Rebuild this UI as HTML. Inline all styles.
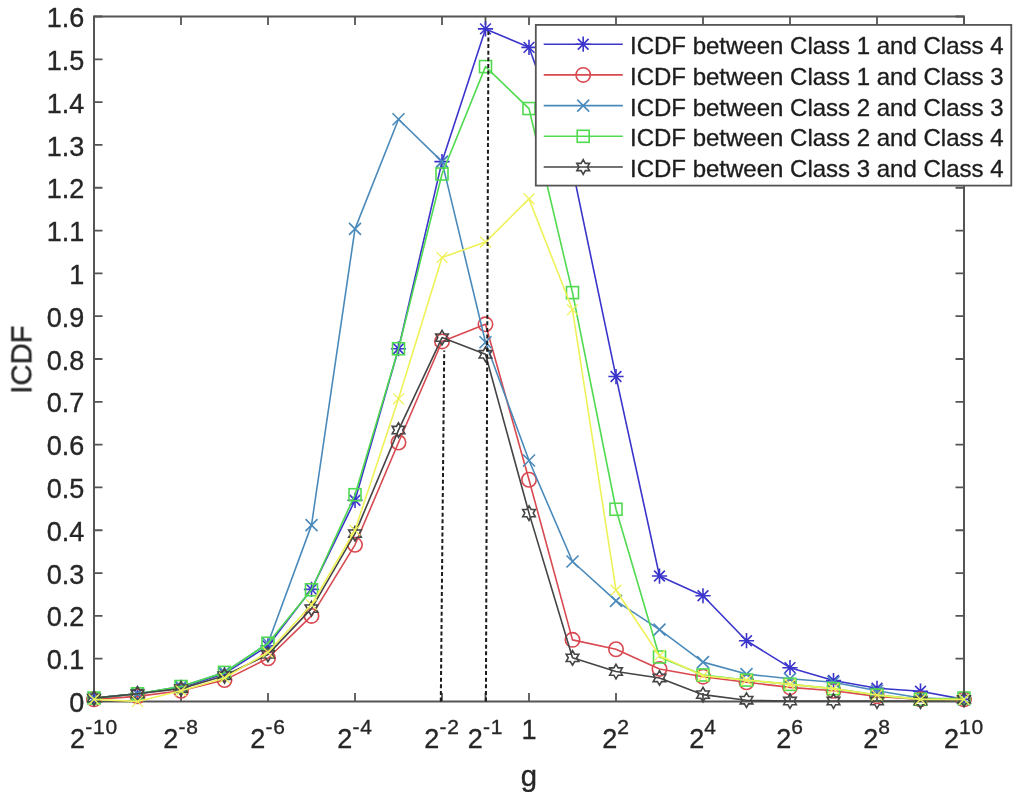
<!DOCTYPE html>
<html><head><meta charset="utf-8"><title>ICDF plot</title>
<style>html,body{margin:0;padding:0;background:#fff;}svg{display:block;}</style>
</head><body>
<svg width="1025" height="802" viewBox="0 0 1025 802">
<defs><filter id="soft" filterUnits="userSpaceOnUse" x="0" y="0" width="1025" height="802"><feGaussianBlur stdDeviation="0.55"/></filter><filter id="softT" filterUnits="userSpaceOnUse" x="0" y="0" width="1025" height="802"><feGaussianBlur stdDeviation="0.35"/></filter></defs>
<rect x="0" y="0" width="1025" height="802" fill="#ffffff"/>
<g filter="url(#soft)">
<rect x="94" y="16.5" width="870" height="685" fill="none" stroke="#555555" stroke-width="2"/>
<path d="M94 701.5V693M94 16.5V25M181 701.5V693M181 16.5V25M268 701.5V693M268 16.5V25M355 701.5V693M355 16.5V25M442 701.5V693M442 16.5V25M485.5 701.5V693M485.5 16.5V25M529 701.5V693M529 16.5V25M616 701.5V693M616 16.5V25M703 701.5V693M703 16.5V25M790 701.5V693M790 16.5V25M877 701.5V693M877 16.5V25M964 701.5V693M964 16.5V25M94 701.5H102.5M964 701.5H955.5M94 658.69H102.5M964 658.69H955.5M94 615.88H102.5M964 615.88H955.5M94 573.06H102.5M964 573.06H955.5M94 530.25H102.5M964 530.25H955.5M94 487.44H102.5M964 487.44H955.5M94 444.62H102.5M964 444.62H955.5M94 401.81H102.5M964 401.81H955.5M94 359H102.5M964 359H955.5M94 316.19H102.5M964 316.19H955.5M94 273.38H102.5M964 273.38H955.5M94 230.56H102.5M964 230.56H955.5M94 187.75H102.5M964 187.75H955.5M94 144.94H102.5M964 144.94H955.5M94 102.13H102.5M964 102.13H955.5M94 59.31H102.5M964 59.31H955.5M94 16.5H102.5M964 16.5H955.5" stroke="#555555" stroke-width="1.8" fill="none"/>
<polyline points="94,698.08 137.5,693.79 181,687.37 224.5,673.67 268,645.84 311.5,589.33 355,500.28 398.5,348.73 442,161.63 485.5,28.92 529,47.33 572.5,168.91 616,376.55 659.5,576.06 703,595.75 746.5,640.71 790,667.68 833.5,680.52 877,688.23 920.5,691.23 964,699.36" stroke="#3a34cc" stroke-width="1.6" fill="none" stroke-linejoin="round"/>
<path d="M86.4 698.08H101.6M94 690.48V705.68M88.63 692.7L99.37 703.45M88.63 703.45L99.37 692.7" stroke="#3a34cc" stroke-width="1.6" fill="none"/>
<path d="M129.9 693.79H145.1M137.5 686.19V701.39M132.13 688.42L142.87 699.17M132.13 699.17L142.87 688.42" stroke="#3a34cc" stroke-width="1.6" fill="none"/>
<path d="M173.4 687.37H188.6M181 679.77V694.97M175.63 682L186.37 692.75M175.63 692.75L186.37 682" stroke="#3a34cc" stroke-width="1.6" fill="none"/>
<path d="M216.9 673.67H232.1M224.5 666.07V681.27M219.13 668.3L229.87 679.05M219.13 679.05L229.87 668.3" stroke="#3a34cc" stroke-width="1.6" fill="none"/>
<path d="M260.4 645.84H275.6M268 638.24V653.44M262.63 640.47L273.37 651.22M262.63 651.22L273.37 640.47" stroke="#3a34cc" stroke-width="1.6" fill="none"/>
<path d="M303.9 589.33H319.1M311.5 581.73V596.93M306.13 583.96L316.87 594.71M306.13 594.71L316.87 583.96" stroke="#3a34cc" stroke-width="1.6" fill="none"/>
<path d="M347.4 500.28H362.6M355 492.68V507.88M349.63 494.91L360.37 505.66M349.63 505.66L360.37 494.91" stroke="#3a34cc" stroke-width="1.6" fill="none"/>
<path d="M390.9 348.73H406.1M398.5 341.13V356.33M393.13 343.35L403.87 354.1M393.13 354.1L403.87 343.35" stroke="#3a34cc" stroke-width="1.6" fill="none"/>
<path d="M434.4 161.63H449.6M442 154.03V169.23M436.63 156.26L447.37 167.01M436.63 167.01L447.37 156.26" stroke="#3a34cc" stroke-width="1.6" fill="none"/>
<path d="M477.9 28.92H493.1M485.5 21.32V36.52M480.13 23.54L490.87 34.29M480.13 34.29L490.87 23.54" stroke="#3a34cc" stroke-width="1.6" fill="none"/>
<path d="M521.4 47.33H536.6M529 39.73V54.93M523.63 41.95L534.37 52.7M523.63 52.7L534.37 41.95" stroke="#3a34cc" stroke-width="1.6" fill="none"/>
<path d="M564.9 168.91H580.1M572.5 161.31V176.51M567.13 163.54L577.87 174.29M567.13 174.29L577.87 163.54" stroke="#3a34cc" stroke-width="1.6" fill="none"/>
<path d="M608.4 376.55H623.6M616 368.95V384.15M610.63 371.18L621.37 381.93M610.63 381.93L621.37 371.18" stroke="#3a34cc" stroke-width="1.6" fill="none"/>
<path d="M651.9 576.06H667.1M659.5 568.46V583.66M654.13 570.69L664.87 581.43M654.13 581.43L664.87 570.69" stroke="#3a34cc" stroke-width="1.6" fill="none"/>
<path d="M695.4 595.75H710.6M703 588.15V603.35M697.63 590.38L708.37 601.13M697.63 601.13L708.37 590.38" stroke="#3a34cc" stroke-width="1.6" fill="none"/>
<path d="M738.9 640.71H754.1M746.5 633.11V648.31M741.13 635.33L751.87 646.08M741.13 646.08L751.87 635.33" stroke="#3a34cc" stroke-width="1.6" fill="none"/>
<path d="M782.4 667.68H797.6M790 660.08V675.28M784.63 662.3L795.37 673.05M784.63 673.05L795.37 662.3" stroke="#3a34cc" stroke-width="1.6" fill="none"/>
<path d="M825.9 680.52H841.1M833.5 672.92V688.12M828.13 675.15L838.87 685.9M828.13 685.9L838.87 675.15" stroke="#3a34cc" stroke-width="1.6" fill="none"/>
<path d="M869.4 688.23H884.6M877 680.63V695.83M871.63 682.85L882.37 693.6M871.63 693.6L882.37 682.85" stroke="#3a34cc" stroke-width="1.6" fill="none"/>
<path d="M912.9 691.23H928.1M920.5 683.62V698.83M915.13 685.85L925.87 696.6M915.13 696.6L925.87 685.85" stroke="#3a34cc" stroke-width="1.6" fill="none"/>
<path d="M956.4 699.36H971.6M964 691.76V706.96M958.63 693.99L969.37 704.73M958.63 704.73L969.37 693.99" stroke="#3a34cc" stroke-width="1.6" fill="none"/>
<polyline points="94,699.36 137.5,696.36 181,690.8 224.5,680.09 268,658.26 311.5,615.88 355,544.81 398.5,442.48 442,341.45 485.5,324.32 529,479.73 572.5,639.85 616,649.27 659.5,668.96 703,676.67 746.5,682.23 790,687.37 833.5,690.8 877,696.36 920.5,699.36 964,699.36" stroke="#d84850" stroke-width="1.6" fill="none" stroke-linejoin="round"/>
<circle cx="94" cy="699.36" r="7.2" stroke="#d84850" stroke-width="1.6" fill="none"/>
<circle cx="137.5" cy="696.36" r="7.2" stroke="#d84850" stroke-width="1.6" fill="none"/>
<circle cx="181" cy="690.8" r="7.2" stroke="#d84850" stroke-width="1.6" fill="none"/>
<circle cx="224.5" cy="680.09" r="7.2" stroke="#d84850" stroke-width="1.6" fill="none"/>
<circle cx="268" cy="658.26" r="7.2" stroke="#d84850" stroke-width="1.6" fill="none"/>
<circle cx="311.5" cy="615.88" r="7.2" stroke="#d84850" stroke-width="1.6" fill="none"/>
<circle cx="355" cy="544.81" r="7.2" stroke="#d84850" stroke-width="1.6" fill="none"/>
<circle cx="398.5" cy="442.48" r="7.2" stroke="#d84850" stroke-width="1.6" fill="none"/>
<circle cx="442" cy="341.45" r="7.2" stroke="#d84850" stroke-width="1.6" fill="none"/>
<circle cx="485.5" cy="324.32" r="7.2" stroke="#d84850" stroke-width="1.6" fill="none"/>
<circle cx="529" cy="479.73" r="7.2" stroke="#d84850" stroke-width="1.6" fill="none"/>
<circle cx="572.5" cy="639.85" r="7.2" stroke="#d84850" stroke-width="1.6" fill="none"/>
<circle cx="616" cy="649.27" r="7.2" stroke="#d84850" stroke-width="1.6" fill="none"/>
<circle cx="659.5" cy="668.96" r="7.2" stroke="#d84850" stroke-width="1.6" fill="none"/>
<circle cx="703" cy="676.67" r="7.2" stroke="#d84850" stroke-width="1.6" fill="none"/>
<circle cx="746.5" cy="682.23" r="7.2" stroke="#d84850" stroke-width="1.6" fill="none"/>
<circle cx="790" cy="687.37" r="7.2" stroke="#d84850" stroke-width="1.6" fill="none"/>
<circle cx="833.5" cy="690.8" r="7.2" stroke="#d84850" stroke-width="1.6" fill="none"/>
<circle cx="877" cy="696.36" r="7.2" stroke="#d84850" stroke-width="1.6" fill="none"/>
<circle cx="920.5" cy="699.36" r="7.2" stroke="#d84850" stroke-width="1.6" fill="none"/>
<circle cx="964" cy="699.36" r="7.2" stroke="#d84850" stroke-width="1.6" fill="none"/>
<polyline points="94,698.08 137.5,693.79 181,686.52 224.5,672.39 268,643.27 311.5,525.11 355,228.85 398.5,119.25 442,161.63 485.5,342.3 529,460.47 572.5,561.5 616,600.89 659.5,629.58 703,662.11 746.5,674.1 790,678.81 833.5,682.23 877,690.8 920.5,698.08 964,699.36" stroke="#4a8abb" stroke-width="1.6" fill="none" stroke-linejoin="round"/>
<path d="M88 692.08L100 704.08M88 704.08L100 692.08" stroke="#4a8abb" stroke-width="1.6" fill="none"/>
<path d="M131.5 687.79L143.5 699.79M131.5 699.79L143.5 687.79" stroke="#4a8abb" stroke-width="1.6" fill="none"/>
<path d="M175 680.52L187 692.52M175 692.52L187 680.52" stroke="#4a8abb" stroke-width="1.6" fill="none"/>
<path d="M218.5 666.39L230.5 678.39M218.5 678.39L230.5 666.39" stroke="#4a8abb" stroke-width="1.6" fill="none"/>
<path d="M262 637.27L274 649.27M262 649.27L274 637.27" stroke="#4a8abb" stroke-width="1.6" fill="none"/>
<path d="M305.5 519.11L317.5 531.11M305.5 531.11L317.5 519.11" stroke="#4a8abb" stroke-width="1.6" fill="none"/>
<path d="M349 222.85L361 234.85M349 234.85L361 222.85" stroke="#4a8abb" stroke-width="1.6" fill="none"/>
<path d="M392.5 113.25L404.5 125.25M392.5 125.25L404.5 113.25" stroke="#4a8abb" stroke-width="1.6" fill="none"/>
<path d="M436 155.63L448 167.63M436 167.63L448 155.63" stroke="#4a8abb" stroke-width="1.6" fill="none"/>
<path d="M479.5 336.3L491.5 348.3M479.5 348.3L491.5 336.3" stroke="#4a8abb" stroke-width="1.6" fill="none"/>
<path d="M523 454.47L535 466.47M523 466.47L535 454.47" stroke="#4a8abb" stroke-width="1.6" fill="none"/>
<path d="M566.5 555.5L578.5 567.5M566.5 567.5L578.5 555.5" stroke="#4a8abb" stroke-width="1.6" fill="none"/>
<path d="M610 594.89L622 606.89M610 606.89L622 594.89" stroke="#4a8abb" stroke-width="1.6" fill="none"/>
<path d="M653.5 623.58L665.5 635.58M653.5 635.58L665.5 623.58" stroke="#4a8abb" stroke-width="1.6" fill="none"/>
<path d="M697 656.11L709 668.11M697 668.11L709 656.11" stroke="#4a8abb" stroke-width="1.6" fill="none"/>
<path d="M740.5 668.1L752.5 680.1M740.5 680.1L752.5 668.1" stroke="#4a8abb" stroke-width="1.6" fill="none"/>
<path d="M784 672.81L796 684.81M784 684.81L796 672.81" stroke="#4a8abb" stroke-width="1.6" fill="none"/>
<path d="M827.5 676.23L839.5 688.23M827.5 688.23L839.5 676.23" stroke="#4a8abb" stroke-width="1.6" fill="none"/>
<path d="M871 684.8L883 696.8M871 696.8L883 684.8" stroke="#4a8abb" stroke-width="1.6" fill="none"/>
<path d="M914.5 692.08L926.5 704.08M914.5 704.08L926.5 692.08" stroke="#4a8abb" stroke-width="1.6" fill="none"/>
<path d="M958 693.36L970 705.36M958 705.36L970 693.36" stroke="#4a8abb" stroke-width="1.6" fill="none"/>
<polyline points="94,698.08 137.5,693.79 181,686.52 224.5,672.39 268,643.27 311.5,589.76 355,494.72 398.5,348.73 442,174.05 485.5,66.59 529,108.55 572.5,292.64 616,509.27 659.5,656.98 703,674.96 746.5,680.09 790,684.38 833.5,688.66 877,695.08 920.5,699.36 964,698.08" stroke="#50da50" stroke-width="1.6" fill="none" stroke-linejoin="round"/>
<rect x="88" y="692.08" width="12" height="12" stroke="#50da50" stroke-width="1.6" fill="none"/>
<rect x="131.5" y="687.79" width="12" height="12" stroke="#50da50" stroke-width="1.6" fill="none"/>
<rect x="175" y="680.52" width="12" height="12" stroke="#50da50" stroke-width="1.6" fill="none"/>
<rect x="218.5" y="666.39" width="12" height="12" stroke="#50da50" stroke-width="1.6" fill="none"/>
<rect x="262" y="637.27" width="12" height="12" stroke="#50da50" stroke-width="1.6" fill="none"/>
<rect x="305.5" y="583.76" width="12" height="12" stroke="#50da50" stroke-width="1.6" fill="none"/>
<rect x="349" y="488.72" width="12" height="12" stroke="#50da50" stroke-width="1.6" fill="none"/>
<rect x="392.5" y="342.73" width="12" height="12" stroke="#50da50" stroke-width="1.6" fill="none"/>
<rect x="436" y="168.05" width="12" height="12" stroke="#50da50" stroke-width="1.6" fill="none"/>
<rect x="479.5" y="60.59" width="12" height="12" stroke="#50da50" stroke-width="1.6" fill="none"/>
<rect x="523" y="102.55" width="12" height="12" stroke="#50da50" stroke-width="1.6" fill="none"/>
<rect x="566.5" y="286.64" width="12" height="12" stroke="#50da50" stroke-width="1.6" fill="none"/>
<rect x="610" y="503.27" width="12" height="12" stroke="#50da50" stroke-width="1.6" fill="none"/>
<rect x="653.5" y="650.98" width="12" height="12" stroke="#50da50" stroke-width="1.6" fill="none"/>
<rect x="697" y="668.96" width="12" height="12" stroke="#50da50" stroke-width="1.6" fill="none"/>
<rect x="740.5" y="674.09" width="12" height="12" stroke="#50da50" stroke-width="1.6" fill="none"/>
<rect x="784" y="678.38" width="12" height="12" stroke="#50da50" stroke-width="1.6" fill="none"/>
<rect x="827.5" y="682.66" width="12" height="12" stroke="#50da50" stroke-width="1.6" fill="none"/>
<rect x="871" y="689.08" width="12" height="12" stroke="#50da50" stroke-width="1.6" fill="none"/>
<rect x="914.5" y="693.36" width="12" height="12" stroke="#50da50" stroke-width="1.6" fill="none"/>
<rect x="958" y="692.08" width="12" height="12" stroke="#50da50" stroke-width="1.6" fill="none"/>
<polyline points="94,698.08 137.5,693.79 181,688.66 224.5,675.81 268,654.41 311.5,608.6 355,533.67 398.5,430.07 442,337.59 485.5,354.29 529,513.12 572.5,657.83 616,671.53 659.5,677.95 703,694.65 746.5,700.22 790,701.07 833.5,701.07 877,701.07 920.5,701.07 964,699.36" stroke="#444444" stroke-width="1.6" fill="none" stroke-linejoin="round"/>
<polygon points="94,690.78 91.89,694.43 87.68,694.43 89.79,698.08 87.68,701.73 91.89,701.73 94,705.38 96.11,701.73 100.32,701.73 98.21,698.08 100.32,694.43 96.11,694.43" stroke="#444444" stroke-width="1.6" fill="none"/>
<polygon points="137.5,686.49 135.39,690.14 131.18,690.14 133.29,693.79 131.18,697.44 135.39,697.44 137.5,701.09 139.61,697.44 143.82,697.44 141.71,693.79 143.82,690.14 139.61,690.14" stroke="#444444" stroke-width="1.6" fill="none"/>
<polygon points="181,681.36 178.89,685.01 174.68,685.01 176.79,688.66 174.68,692.31 178.89,692.31 181,695.96 183.11,692.31 187.32,692.31 185.21,688.66 187.32,685.01 183.11,685.01" stroke="#444444" stroke-width="1.6" fill="none"/>
<polygon points="224.5,668.51 222.39,672.16 218.18,672.16 220.29,675.81 218.18,679.46 222.39,679.46 224.5,683.11 226.61,679.46 230.82,679.46 228.71,675.81 230.82,672.16 226.61,672.16" stroke="#444444" stroke-width="1.6" fill="none"/>
<polygon points="268,647.11 265.89,650.76 261.68,650.76 263.79,654.41 261.68,658.06 265.89,658.06 268,661.71 270.11,658.06 274.32,658.06 272.21,654.41 274.32,650.76 270.11,650.76" stroke="#444444" stroke-width="1.6" fill="none"/>
<polygon points="311.5,601.3 309.39,604.95 305.18,604.95 307.29,608.6 305.18,612.25 309.39,612.25 311.5,615.9 313.61,612.25 317.82,612.25 315.71,608.6 317.82,604.95 313.61,604.95" stroke="#444444" stroke-width="1.6" fill="none"/>
<polygon points="355,526.38 352.89,530.02 348.68,530.02 350.79,533.67 348.68,537.32 352.89,537.32 355,540.97 357.11,537.32 361.32,537.32 359.21,533.67 361.32,530.02 357.11,530.02" stroke="#444444" stroke-width="1.6" fill="none"/>
<polygon points="398.5,422.77 396.39,426.42 392.18,426.42 394.29,430.07 392.18,433.72 396.39,433.72 398.5,437.37 400.61,433.72 404.82,433.72 402.71,430.07 404.82,426.42 400.61,426.42" stroke="#444444" stroke-width="1.6" fill="none"/>
<polygon points="442,330.29 439.89,333.94 435.68,333.94 437.79,337.59 435.68,341.24 439.89,341.24 442,344.89 444.11,341.24 448.32,341.24 446.21,337.59 448.32,333.94 444.11,333.94" stroke="#444444" stroke-width="1.6" fill="none"/>
<polygon points="485.5,346.99 483.39,350.64 479.18,350.64 481.29,354.29 479.18,357.94 483.39,357.94 485.5,361.59 487.61,357.94 491.82,357.94 489.71,354.29 491.82,350.64 487.61,350.64" stroke="#444444" stroke-width="1.6" fill="none"/>
<polygon points="529,505.82 526.89,509.48 522.68,509.48 524.79,513.12 522.68,516.77 526.89,516.77 529,520.42 531.11,516.77 535.32,516.77 533.21,513.12 535.32,509.48 531.11,509.48" stroke="#444444" stroke-width="1.6" fill="none"/>
<polygon points="572.5,650.53 570.39,654.18 566.18,654.18 568.29,657.83 566.18,661.48 570.39,661.48 572.5,665.13 574.61,661.48 578.82,661.48 576.71,657.83 578.82,654.18 574.61,654.18" stroke="#444444" stroke-width="1.6" fill="none"/>
<polygon points="616,664.23 613.89,667.88 609.68,667.88 611.79,671.53 609.68,675.18 613.89,675.18 616,678.83 618.11,675.18 622.32,675.18 620.21,671.53 622.32,667.88 618.11,667.88" stroke="#444444" stroke-width="1.6" fill="none"/>
<polygon points="659.5,670.65 657.39,674.3 653.18,674.3 655.29,677.95 653.18,681.6 657.39,681.6 659.5,685.25 661.61,681.6 665.82,681.6 663.71,677.95 665.82,674.3 661.61,674.3" stroke="#444444" stroke-width="1.6" fill="none"/>
<polygon points="703,687.35 700.89,691 696.68,691 698.79,694.65 696.68,698.3 700.89,698.3 703,701.95 705.11,698.3 709.32,698.3 707.21,694.65 709.32,691 705.11,691" stroke="#444444" stroke-width="1.6" fill="none"/>
<polygon points="746.5,692.92 744.39,696.57 740.18,696.57 742.29,700.22 740.18,703.87 744.39,703.87 746.5,707.52 748.61,703.87 752.82,703.87 750.71,700.22 752.82,696.57 748.61,696.57" stroke="#444444" stroke-width="1.6" fill="none"/>
<polygon points="790,693.77 787.89,697.42 783.68,697.42 785.79,701.07 783.68,704.72 787.89,704.72 790,708.37 792.11,704.72 796.32,704.72 794.21,701.07 796.32,697.42 792.11,697.42" stroke="#444444" stroke-width="1.6" fill="none"/>
<polygon points="833.5,693.77 831.39,697.42 827.18,697.42 829.29,701.07 827.18,704.72 831.39,704.72 833.5,708.37 835.61,704.72 839.82,704.72 837.71,701.07 839.82,697.42 835.61,697.42" stroke="#444444" stroke-width="1.6" fill="none"/>
<polygon points="877,693.77 874.89,697.42 870.68,697.42 872.79,701.07 870.68,704.72 874.89,704.72 877,708.37 879.11,704.72 883.32,704.72 881.21,701.07 883.32,697.42 879.11,697.42" stroke="#444444" stroke-width="1.6" fill="none"/>
<polygon points="920.5,693.77 918.39,697.42 914.18,697.42 916.29,701.07 914.18,704.72 918.39,704.72 920.5,708.37 922.61,704.72 926.82,704.72 924.71,701.07 926.82,697.42 922.61,697.42" stroke="#444444" stroke-width="1.6" fill="none"/>
<polygon points="964,692.06 961.89,695.71 957.68,695.71 959.79,699.36 957.68,703.01 961.89,703.01 964,706.66 966.11,703.01 970.32,703.01 968.21,699.36 970.32,695.71 966.11,695.71" stroke="#444444" stroke-width="1.6" fill="none"/>
<polyline points="94,699.36 137.5,701.5 181,690.8 224.5,677.95 268,652.27 311.5,604.74 355,530.25 398.5,398.82 442,257.53 485.5,242.12 529,198.88 572.5,309.77 616,590.19 659.5,655.69 703,675.81 746.5,680.09 790,684.38 833.5,688.66 877,695.08 920.5,699.36 964,699.36" stroke="#eef258" stroke-width="1.6" fill="none" stroke-linejoin="round"/>
<path d="M88.6 693.96L99.4 704.76M88.6 704.76L99.4 693.96" stroke="#eef258" stroke-width="1.25" fill="none"/>
<path d="M132.1 696.1L142.9 706.9M132.1 706.9L142.9 696.1" stroke="#eef258" stroke-width="1.25" fill="none"/>
<path d="M175.6 685.4L186.4 696.2M175.6 696.2L186.4 685.4" stroke="#eef258" stroke-width="1.25" fill="none"/>
<path d="M219.1 672.55L229.9 683.35M219.1 683.35L229.9 672.55" stroke="#eef258" stroke-width="1.25" fill="none"/>
<path d="M262.6 646.87L273.4 657.67M262.6 657.67L273.4 646.87" stroke="#eef258" stroke-width="1.25" fill="none"/>
<path d="M306.1 599.34L316.9 610.14M306.1 610.14L316.9 599.34" stroke="#eef258" stroke-width="1.25" fill="none"/>
<path d="M349.6 524.85L360.4 535.65M349.6 535.65L360.4 524.85" stroke="#eef258" stroke-width="1.25" fill="none"/>
<path d="M393.1 393.42L403.9 404.22M393.1 404.22L403.9 393.42" stroke="#eef258" stroke-width="1.25" fill="none"/>
<path d="M436.6 252.13L447.4 262.93M436.6 262.93L447.4 252.13" stroke="#eef258" stroke-width="1.25" fill="none"/>
<path d="M480.1 236.72L490.9 247.52M480.1 247.52L490.9 236.72" stroke="#eef258" stroke-width="1.25" fill="none"/>
<path d="M523.6 193.48L534.4 204.28M523.6 204.28L534.4 193.48" stroke="#eef258" stroke-width="1.25" fill="none"/>
<path d="M567.1 304.37L577.9 315.17M567.1 315.17L577.9 304.37" stroke="#eef258" stroke-width="1.25" fill="none"/>
<path d="M610.6 584.79L621.4 595.59M610.6 595.59L621.4 584.79" stroke="#eef258" stroke-width="1.25" fill="none"/>
<path d="M654.1 650.29L664.9 661.09M654.1 661.09L664.9 650.29" stroke="#eef258" stroke-width="1.25" fill="none"/>
<path d="M697.6 670.41L708.4 681.21M697.6 681.21L708.4 670.41" stroke="#eef258" stroke-width="1.25" fill="none"/>
<path d="M741.1 674.69L751.9 685.49M741.1 685.49L751.9 674.69" stroke="#eef258" stroke-width="1.25" fill="none"/>
<path d="M784.6 678.98L795.4 689.77M784.6 689.77L795.4 678.98" stroke="#eef258" stroke-width="1.25" fill="none"/>
<path d="M828.1 683.26L838.9 694.06M828.1 694.06L838.9 683.26" stroke="#eef258" stroke-width="1.25" fill="none"/>
<path d="M871.6 689.68L882.4 700.48M871.6 700.48L882.4 689.68" stroke="#eef258" stroke-width="1.25" fill="none"/>
<path d="M915.1 693.96L925.9 704.76M915.1 704.76L925.9 693.96" stroke="#eef258" stroke-width="1.25" fill="none"/>
<path d="M958.6 693.96L969.4 704.76M958.6 704.76L969.4 693.96" stroke="#eef258" stroke-width="1.25" fill="none"/>
<line x1="440.8" y1="701.5" x2="444.2" y2="350.44" stroke="#1a1a1a" stroke-width="2" stroke-dasharray="4 2.6"/>
<line x1="485.9" y1="701.5" x2="488.4" y2="31.48" stroke="#1a1a1a" stroke-width="2" stroke-dasharray="4 2.6"/>
</g>
<g filter="url(#softT)" stroke="#262626" stroke-width="0.35">
<g font-family='"Liberation Sans", Arial, Helvetica, sans-serif' font-size="27" fill="#262626"><text x="84.2" y="712.1" text-anchor="end">0</text>
<text x="84.2" y="669.29" text-anchor="end">0.1</text>
<text x="84.2" y="626.48" text-anchor="end">0.2</text>
<text x="84.2" y="583.66" text-anchor="end">0.3</text>
<text x="84.2" y="540.85" text-anchor="end">0.4</text>
<text x="84.2" y="498.04" text-anchor="end">0.5</text>
<text x="84.2" y="455.23" text-anchor="end">0.6</text>
<text x="84.2" y="412.41" text-anchor="end">0.7</text>
<text x="84.2" y="369.6" text-anchor="end">0.8</text>
<text x="84.2" y="326.79" text-anchor="end">0.9</text>
<text x="84.2" y="283.98" text-anchor="end">1</text>
<text x="84.2" y="241.16" text-anchor="end">1.1</text>
<text x="84.2" y="198.35" text-anchor="end">1.2</text>
<text x="84.2" y="155.54" text-anchor="end">1.3</text>
<text x="84.2" y="112.73" text-anchor="end">1.4</text>
<text x="84.2" y="69.91" text-anchor="end">1.5</text>
<text x="84.2" y="27.1" text-anchor="end">1.6</text></g>
<g font-family='"Liberation Sans", Arial, Helvetica, sans-serif' font-size="27" fill="#262626"><text x="94" y="747.5" text-anchor="middle">2<tspan font-size="21" letter-spacing="0.8" dy="-13.6">-10</tspan></text>
<text x="181" y="747.5" text-anchor="middle">2<tspan font-size="21" letter-spacing="0.8" dy="-13.6">-8</tspan></text>
<text x="268" y="747.5" text-anchor="middle">2<tspan font-size="21" letter-spacing="0.8" dy="-13.6">-6</tspan></text>
<text x="355" y="747.5" text-anchor="middle">2<tspan font-size="21" letter-spacing="0.8" dy="-13.6">-4</tspan></text>
<text x="442" y="747.5" text-anchor="middle">2<tspan font-size="21" letter-spacing="0.8" dy="-13.6">-2</tspan></text>
<text x="485.5" y="747.5" text-anchor="middle">2<tspan font-size="21" letter-spacing="0.8" dy="-13.6">-1</tspan></text>
<text x="529" y="739" text-anchor="middle">1</text>
<text x="616" y="747.5" text-anchor="middle">2<tspan font-size="21" letter-spacing="0.8" dy="-13.6">2</tspan></text>
<text x="703" y="747.5" text-anchor="middle">2<tspan font-size="21" letter-spacing="0.8" dy="-13.6">4</tspan></text>
<text x="790" y="747.5" text-anchor="middle">2<tspan font-size="21" letter-spacing="0.8" dy="-13.6">6</tspan></text>
<text x="877" y="747.5" text-anchor="middle">2<tspan font-size="21" letter-spacing="0.8" dy="-13.6">8</tspan></text>
<text x="964" y="747.5" text-anchor="middle">2<tspan font-size="21" letter-spacing="0.8" dy="-13.6">10</tspan></text></g>
<text x="529" y="785.5" text-anchor="middle" font-family='"Liberation Sans", Arial, Helvetica, sans-serif' font-size="29.3" fill="#262626">g</text>
<text transform="translate(31.4 359.6) rotate(-90)" text-anchor="middle" font-family='"Liberation Sans", Arial, Helvetica, sans-serif' font-size="29.3" fill="#262626">ICDF</text>
</g>
<g filter="url(#soft)">
<rect x="535.8" y="24.9" width="475.5" height="160.7" fill="#ffffff" stroke="#555555" stroke-width="1.8"/>
<line x1="543.7" y1="44.2" x2="622.8" y2="44.2" stroke="#3a34cc" stroke-width="1.6"/>
<path d="M575.6 44.2H590.8M583.2 36.6V51.8M577.83 38.83L588.57 49.57M577.83 49.57L588.57 38.83" stroke="#3a34cc" stroke-width="1.6" fill="none"/>
</g>
<g filter="url(#softT)" stroke="#262626" stroke-width="0.35">
<text x="630" y="54.3" font-family='"Liberation Sans", Arial, Helvetica, sans-serif' font-size="24" fill="#1a1a1a">ICDF between Class 1 and Class 4</text>
</g>
<g filter="url(#soft)">
<line x1="543.7" y1="74.9" x2="622.8" y2="74.9" stroke="#d84850" stroke-width="1.6"/>
<circle cx="583.2" cy="74.9" r="7.2" stroke="#d84850" stroke-width="1.6" fill="none"/>
</g>
<g filter="url(#softT)" stroke="#262626" stroke-width="0.35">
<text x="630" y="85" font-family='"Liberation Sans", Arial, Helvetica, sans-serif' font-size="24" fill="#1a1a1a">ICDF between Class 1 and Class 3</text>
</g>
<g filter="url(#soft)">
<line x1="543.7" y1="105.6" x2="622.8" y2="105.6" stroke="#4a8abb" stroke-width="1.6"/>
<path d="M577.2 99.6L589.2 111.6M577.2 111.6L589.2 99.6" stroke="#4a8abb" stroke-width="1.6" fill="none"/>
</g>
<g filter="url(#softT)" stroke="#262626" stroke-width="0.35">
<text x="630" y="115.7" font-family='"Liberation Sans", Arial, Helvetica, sans-serif' font-size="24" fill="#1a1a1a">ICDF between Class 2 and Class 3</text>
</g>
<g filter="url(#soft)">
<line x1="543.7" y1="136.3" x2="622.8" y2="136.3" stroke="#50da50" stroke-width="1.6"/>
<rect x="577.2" y="130.3" width="12" height="12" stroke="#50da50" stroke-width="1.6" fill="none"/>
</g>
<g filter="url(#softT)" stroke="#262626" stroke-width="0.35">
<text x="630" y="146.4" font-family='"Liberation Sans", Arial, Helvetica, sans-serif' font-size="24" fill="#1a1a1a">ICDF between Class 2 and Class 4</text>
</g>
<g filter="url(#soft)">
<line x1="543.7" y1="167" x2="622.8" y2="167" stroke="#444444" stroke-width="1.6"/>
<polygon points="583.2,159.7 581.09,163.35 576.88,163.35 578.99,167 576.88,170.65 581.09,170.65 583.2,174.3 585.31,170.65 589.52,170.65 587.41,167 589.52,163.35 585.31,163.35" stroke="#444444" stroke-width="1.6" fill="none"/>
</g>
<g filter="url(#softT)" stroke="#262626" stroke-width="0.35">
<text x="630" y="177.1" font-family='"Liberation Sans", Arial, Helvetica, sans-serif' font-size="24" fill="#1a1a1a">ICDF between Class 3 and Class 4</text>
</g>
</svg>
</body></html>
